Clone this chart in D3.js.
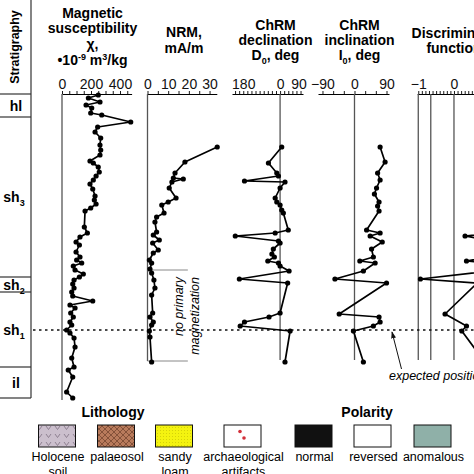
<!DOCTYPE html>
<html>
<head>
<meta charset="utf-8">
<script src="https://cdn.jsdelivr.net/npm/d3@7/dist/d3.min.js"></script>
<style>
  body { margin: 0; background: #fff; }
  svg { display: block; font-family: "Liberation Sans", Arial, sans-serif; }
</style>
</head>
<body>
<svg id="chart" width="474" height="474"></svg>
<script>
// depth below top of section (relative units)
const susDepth = [1, 4, 8, 11, 14, 19, 21, 28, 33, 38, 44, 51, 56, 61, 67, 69, 73, 78, 82, 86, 90, 95, 102, 106, 110, 114, 117, 133, 139, 143, 148, 151, 158, 163, 166, 169, 172, 176, 180, 183, 186, 190, 194, 198, 202, 207, 211, 214, 219, 223, 228, 231, 236, 239, 244, 253, 264, 273, 276, 283, 298, 304];
const susValue = [250, 182, 262, 166, 205, 198, 274, 474, 246, 228, 267, 262, 267, 262, 193, 216, 250, 257, 235, 216, 193, 212, 228, 223, 235, 198, 159, 154, 175, 124, 97, 120, 97, 124, 101, 136, 78, 90, 147, 120, 83, 74, 83, 67, 74, 212, 55, 90, 60, 78, 55, 67, 32, 55, 83, 90, 67, 83, 43, 74, 32, 74];

const nrmDepth = [53, 68, 79, 84, 85, 88, 94, 104, 108, 111, 119, 123, 128, 138, 141, 146, 149, 156, 159, 166, 169, 175, 179, 186, 194, 201, 219, 223, 228, 231, 237, 243, 268];
const nrmValue = [33.7, 18.1, 13.3, 12.5, 17.3, 11.8, 10.5, 13.8, 10, 6.9, 8, 4.4, 3.6, 4.4, 2.8, 5.7, 2.5, 5.2, 2.8, 0.9, 2, 1.2, 2, 3.1, 3.6, 2, 2.5, 1.2, 2.8, 2, 0.9, 1.2, 2];

const decDepth = [53, 69, 79, 82, 87, 88, 94, 104, 108, 111, 116, 119, 136, 139, 142, 147, 149, 155, 160, 163, 167, 169, 172, 177, 185, 189, 219, 223, 228, 232, 237, 268];
const decValue = [8, -57, -16, -8, -174, 24, 0, -24, -16, 0, 8, 16, 40, -24, -219, -8, 0, -33, -40, -28, -60, -8, 0, 44, -199, 37, 0, -54, -174, -195, 49, 24];

const incDepth = [53, 68, 79, 86, 94, 100, 108, 112, 117, 136, 139, 142, 148, 155, 163, 167, 169, 177, 185, 189, 220, 223, 228, 232, 237, 268];
const incValue = [72, 86, 65, 72, 62, 56, 69, 65, 69, 34, 72, 44, 78, 48, 53, 15, 58, 25, -55, 90, -43, 69, 72, 53, -3, 25];

const discDepth = [53, 68, 79, 86, 94, 100, 108, 112, 117, 136, 139, 142, 148, 155, 163, 167, 169, 177, 185, 189, 220, 232, 237, 268];
const discValue = [1.2, 1.3, 1.1, 1.2, 1.1, 1.0, 1.2, 1.1, 1.2, 0.9, 1.2, 0.31, 1.3, 1.0, 1.0, 0.35, 1.1, 1.0, -0.94, 0.65, -0.25, 0.35, 0.22, 0.86];
const discLines = [-1, -0.65, 0];

// stratigraphic units: top / bottom depth
const units = ["hl", "sh3", "sh2", "sh1", "il"];
const unitTop = [0, 23, 183, 198, 273];
const unitBottom = [23, 183, 198, 273, 304];
const boundaryDepth = 236;   // expected position (dotted line)
const noPrimaryTop = 176, noPrimaryBottom = 267;

const lithologyItems = ["Holocene|soil", "palaeosol", "sandy|loam", "archaeological|artifacts"];
const polarityItems = ["normal", "reversed", "anomalous"];

const svg = d3.select("#chart");
const axisY = 94;
const y = d3.scaleLinear().domain([0, 306]).range([94, 400]);

const xSus = d3.scaleLinear().domain([0, 480]).range([62, 131.6]);
const xNrm = d3.scaleLinear().domain([0, 33.5]).range([147.5, 216.8]);
const xDec = d3.scaleLinear().domain([-235, 112]).range([232, 303]);
const xInc = d3.scaleLinear().domain([-102.6, 97]).range([318, 389]);
const xDisc = d3.scaleLinear().domain([-1.03, 0.6]).range([417.2, 475.4]);

svg.append("rect").attr("width", 474).attr("height", 474).attr("fill", "#fff");

// ---- stratigraphy column
const strat = svg.append("g").attr("stroke", "#333").attr("stroke-width", 1.2);
strat.append("line").attr("x1", 31).attr("x2", 31).attr("y1", 0).attr("y2", y(304));
strat.selectAll(".hb").data([0].concat(unitBottom)).join("line")
  .attr("x1", 0).attr("x2", 31)
  .attr("y1", d => y(d)).attr("y2", d => y(d));

svg.append("text").attr("transform", "translate(19,47) rotate(-90)")
  .attr("text-anchor", "middle").attr("font-weight", "bold").attr("font-size", 12.5)
  .text("Stratigraphy");

const unitText = svg.selectAll(".unit").data(units).join("text")
  .attr("x", 16).attr("y", (d, i) => (y(unitTop[i]) + y(unitBottom[i])) / 2 + 5)
  .attr("text-anchor", "middle").attr("font-weight", "bold").attr("font-size", 14);
unitText.append("tspan").text(d => d.slice(0, 2));
unitText.filter(d => d.length > 2).append("tspan")
  .attr("font-size", 9).attr("dy", 4).text(d => d.slice(2));
unitText.filter(d => d.length > 2).attr("x", 14);

// ---- headers
function header(x, lines) {
  lines.forEach(([yy, parts]) => {
    const t = svg.append("text").attr("x", x).attr("y", yy).attr("text-anchor", "middle")
      .attr("font-weight", "bold").attr("font-size", 14);
    let shift = 0;
    parts.forEach(p => {
      const s = t.append("tspan").text(p.t);
      const want = p.sup ? -5 : p.sub ? 4 : 0;
      if (want !== shift) { s.attr("dy", want - shift); shift = want; }
      if (p.sup || p.sub) s.attr("font-size", 9);
    });
  });
}
header(92.5, [[18, [{t: "Magnetic"}]], [33, [{t: "susceptibility"}]], [49, [{t: "χ,"}]],
  [65, [{t: "•10"}, {t: "-9", sup: true}, {t: " m"}, {t: "3", sup: true}, {t: "/kg"}]]]);
header(184, [[37, [{t: "NRM,"}]], [53, [{t: "mA/m"}]]]);
header(275.5, [[30, [{t: "ChRM"}]], [45, [{t: "declination"}]], [60, [{t: "D"}, {t: "0", sub: true}, {t: ", deg"}]]]);
header(359.5, [[30, [{t: "ChRM"}]], [45, [{t: "inclination"}]], [60, [{t: "I"}, {t: "0", sub: true}, {t: ", deg"}]]]);
header(454, [[38, [{t: "Discriminant"}]], [53, [{t: "function"}]]]);

// ---- top axes
function topAxis(scale, minor, labels, fmt) {
  const g = svg.append("g").attr("transform", `translate(0,${axisY})`)
    .call(d3.axisTop(scale).tickValues(minor).tickSize(3).tickSizeOuter(0).tickFormat(""));
  g.select(".domain").attr("stroke-width", 1.2);
  g.selectAll(".tick line").attr("stroke-width", 0.9);
  const l = svg.append("g").attr("transform", `translate(0,${axisY})`)
    .call(d3.axisTop(scale).tickValues(labels).tickSize(0).tickPadding(5).tickFormat(fmt));
  l.select(".domain").remove();
  l.attr("font-size", 14).attr("font-family", null);
  l.selectAll("text").attr("fill", "#111");
}
topAxis(xSus, d3.range(0, 481, 50), [0, 200, 400], d3.format("d"));
topAxis(xNrm, d3.range(0, 34, 5), [0, 10, 20, 30], d3.format("d"));
topAxis(xDec, d3.range(-220, 111, 20), [-180, 0, 90], d => String(Math.abs(d)));
topAxis(xInc, d3.range(-90, 91, 30), [-90, 0, 90], d3.format("d"));
topAxis(xDisc, d3.range(-1, 0.61, 0.1), [-1, 0], d3.format("d"));

// ---- reference verticals
const ref = svg.append("g").attr("stroke", "#555").attr("stroke-width", 1.3);
ref.append("line").attr("x1", xSus(0)).attr("x2", xSus(0)).attr("y1", y(0)).attr("y2", y(306));
ref.append("line").attr("x1", xNrm(0)).attr("x2", xNrm(0)).attr("y1", y(0)).attr("y2", y(noPrimaryBottom));
ref.append("line").attr("x1", xDec(0)).attr("x2", xDec(0)).attr("y1", y(0)).attr("y2", y(266));
ref.append("line").attr("x1", xInc(0)).attr("x2", xInc(0)).attr("y1", y(0)).attr("y2", y(266));
ref.selectAll(".dl").data(discLines).join("line")
  .attr("x1", d => xDisc(d)).attr("x2", d => xDisc(d)).attr("y1", y(0)).attr("y2", y(266));

// no primary magnetization bracket
const br = svg.append("g").attr("stroke", "#888").attr("stroke-width", 1);
[noPrimaryTop, noPrimaryBottom].forEach(d =>
  br.append("line").attr("x1", xNrm(0)).attr("x2", xNrm(19.5)).attr("y1", y(d)).attr("y2", y(d)));
const np = svg.append("g").attr("font-style", "italic").attr("font-size", 12.5).attr("text-anchor", "end");
np.append("text").attr("transform", `translate(183,${y(noPrimaryTop) + 7}) rotate(-90)`).text("no primary");
np.append("text").attr("transform", `translate(199,${y(noPrimaryTop) + 7}) rotate(-90)`).text("magnetization");

// dotted line
svg.append("line").attr("x1", 33).attr("x2", 474)
  .attr("y1", y(boundaryDepth)).attr("y2", y(boundaryDepth))
  .attr("stroke", "#111").attr("stroke-width", 1.6).attr("stroke-dasharray", "2.5,3.5");

// ---- data series
function series(depth, value, x) {
  const pts = d3.zip(depth, value);
  const g = svg.append("g");
  g.append("path").datum(pts)
    .attr("d", d3.line().x(d => x(d[1])).y(d => y(d[0])))
    .attr("fill", "none").attr("stroke", "#000").attr("stroke-width", 1.7)
    .attr("stroke-linejoin", "round");
  g.selectAll("circle").data(pts).join("circle")
    .attr("cx", d => x(d[1])).attr("cy", d => y(d[0])).attr("r", 2.6).attr("fill", "#000");
}
series(susDepth, susValue, xSus);
series(nrmDepth, nrmValue, xNrm);
series(decDepth, decValue, xDec);
series(incDepth, incValue, xInc);
series(discDepth, discValue, xDisc);

// expected position note
const defs = svg.append("defs");
defs.append("marker").attr("id", "arr").attr("viewBox", "0 0 10 10").attr("refX", 9).attr("refY", 5)
  .attr("markerWidth", 7).attr("markerHeight", 7).attr("orient", "auto")
  .append("path").attr("d", "M0,1.5 L10,5 L0,8.5 Z").attr("fill", "#111");
svg.append("line").attr("x1", 401.5).attr("y1", 369).attr("x2", 392).attr("y2", y(boundaryDepth) + 2)
  .attr("stroke", "#111").attr("stroke-width", 1).attr("marker-end", "url(#arr)");
svg.append("text").attr("x", 389).attr("y", 380).attr("font-style", "italic").attr("font-size", 12.5)
  .text("expected position");

// ---- legend
const hol = defs.append("pattern").attr("id", "hol").attr("patternUnits", "userSpaceOnUse")
  .attr("width", 9).attr("height", 8);
hol.append("rect").attr("width", 9).attr("height", 8).attr("fill", "#cbbfcd");
hol.append("path").attr("d", "M1,2 L3.5,5.5 L6,2").attr("fill", "none").attr("stroke", "#7e7082").attr("stroke-width", 0.8);
const pal = defs.append("pattern").attr("id", "pal").attr("patternUnits", "userSpaceOnUse")
  .attr("width", 6).attr("height", 6);
pal.append("rect").attr("width", 6).attr("height", 6).attr("fill", "#b97b5c");
pal.append("path").attr("d", "M0,0 L6,6 M6,0 L0,6").attr("stroke", "#6d3f2a").attr("stroke-width", 0.7);
const san = defs.append("pattern").attr("id", "san").attr("patternUnits", "userSpaceOnUse")
  .attr("width", 3).attr("height", 3);
san.append("rect").attr("width", 3).attr("height", 3).attr("fill", "#f4f310");
san.append("circle").attr("cx", 1.5).attr("cy", 1.5).attr("r", 0.45).attr("fill", "#b5b000");

const legendFill = ["url(#hol)", "url(#pal)", "url(#san)", "#fff", "#111", "#fff", "#8fb0a8"];
const legendX = [57, 116, 174, 242.5, 313.5, 372.5, 432.5];
const legendNames = lithologyItems.concat(polarityItems);
const lg = svg.append("g");
lg.selectAll("rect").data(legendNames).join("rect")
  .attr("x", (d, i) => legendX[i] - 18.5).attr("y", 425).attr("width", 37).attr("height", 22)
  .attr("fill", (d, i) => legendFill[i]).attr("stroke", "#111").attr("stroke-width", 1);
lg.selectAll(".dot").data([[240, 431.5], [244, 438]]).join("circle")
  .attr("cx", d => d[0]).attr("cy", d => d[1]).attr("r", 1.8).attr("fill", "#d3303a");
legendNames.forEach((name, i) => {
  name.split("|").forEach((s, j) => {
    lg.append("text").attr("x", legendX[i] + 1).attr("y", 461 + j * 15)
      .attr("text-anchor", "middle").attr("font-size", 12.5).text(s);
  });
});
lg.append("text").attr("x", 113).attr("y", 417).attr("text-anchor", "middle")
  .attr("font-weight", "bold").attr("font-size", 14).text("Lithology");
lg.append("text").attr("x", 367).attr("y", 417).attr("text-anchor", "middle")
  .attr("font-weight", "bold").attr("font-size", 14).text("Polarity");
</script>
</body>
</html>
